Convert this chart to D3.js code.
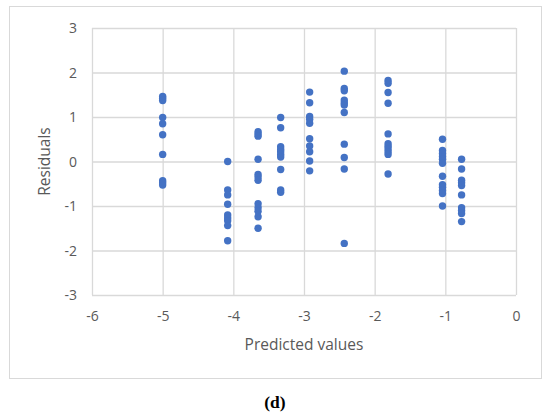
<!DOCTYPE html>
<html>
<head>
<meta charset="utf-8">
<script src="https://cdn.jsdelivr.net/npm/d3@7"></script>
<style>
  html, body { margin: 0; padding: 0; background: #fff; }
  svg { display: block; }
</style>
</head>
<body>
<div id="chart"></div>
<script>
// Predicted value of each vertical group of points
const predicted = [-5.0, -4.08, -3.65, -3.33, -2.92, -2.43, -1.81, -1.04, -0.77];
// Residuals for each group (same order as predicted)
const residuals = [
  [1.46, 1.42, 1.37, 0.99, 0.85, 0.60, 0.16, -0.43, -0.48, -0.53],
  [0.0, -0.64, -0.75, -0.96, -1.20, -1.27, -1.33, -1.44, -1.78],
  [0.67, 0.62, 0.57, 0.05, -0.29, -0.35, -0.42, -0.95, -1.04, -1.12, -1.24, -1.50],
  [0.99, 0.76, 0.33, 0.27, 0.22, 0.16, 0.10, -0.18, -0.64, -0.69],
  [1.56, 1.32, 1.01, 0.95, 0.86, 0.51, 0.35, 0.22, 0.01, -0.21],
  [2.03, 1.64, 1.59, 1.38, 1.32, 1.27, 1.10, 0.39, 0.09, -0.17, -1.84],
  [1.82, 1.76, 1.55, 1.31, 0.62, 0.40, 0.34, 0.28, 0.22, 0.16, -0.28],
  [0.50, 0.25, 0.18, 0.11, 0.05, -0.04, -0.33, -0.52, -0.58, -0.65, -0.72, -1.00],
  [0.05, -0.17, -0.42, -0.48, -0.54, -0.75, -1.04, -1.10, -1.17, -1.35]
];
const xTicks = [-6, -5, -4, -3, -2, -1, 0];
const yTicks = [-3, -2, -1, 0, 1, 2, 3];
const xTitle = "Predicted values";
const yTitle = "Residuals";
const caption = "(d)";

const points = [];
predicted.forEach((p, i) => residuals[i].forEach(r => points.push({x: p, y: r})));

const W = 550, H = 416;
const plot = {left: 92, right: 516, top: 28, bottom: 295};

const svg = d3.select("#chart").append("svg")
  .attr("width", W).attr("height", H);

// outer chart border
svg.append("rect")
  .attr("x", 9.5).attr("y", 6.5)
  .attr("width", 532).attr("height", 372)
  .attr("fill", "#fff")
  .attr("stroke", "#d9d9d9").attr("stroke-width", 1);

const x = d3.scaleLinear().domain([-6, 0]).range([plot.left, plot.right]);
const y = d3.scaleLinear().domain([-3, 3]).range([plot.bottom, plot.top]);
const fmt = d => String(d);

// gridlines
const gx = svg.append("g").attr("transform", `translate(0,${plot.bottom})`)
  .call(d3.axisBottom(x).tickValues(xTicks).tickSize(-(plot.bottom - plot.top)).tickFormat(""));
const gy = svg.append("g").attr("transform", `translate(${plot.left},0)`)
  .call(d3.axisLeft(y).tickValues(yTicks).tickSize(-(plot.right - plot.left)).tickFormat(""));
[gx, gy].forEach(g => {
  g.select(".domain").remove();
  g.selectAll(".tick line").attr("stroke", "#d9d9d9").attr("stroke-width", 1.3);
});

// tick labels via axes
const lx = svg.append("g").attr("transform", `translate(0,${plot.bottom})`)
  .call(d3.axisBottom(x).tickValues(xTicks).tickSize(0).tickPadding(14).tickFormat(fmt));
const ly = svg.append("g").attr("transform", `translate(${plot.left},0)`)
  .call(d3.axisLeft(y).tickValues(yTicks).tickSize(0).tickPadding(15).tickFormat(fmt));
[lx, ly].forEach(g => {
  g.select(".domain").remove();
  g.selectAll("text")
    .attr("fill", "#595959")
    .style("font-family", "'Open Sans', sans-serif")
    .style("font-size", "14px");
});
lx.selectAll("text").attr("dy", "0.85em");
ly.selectAll("text").attr("dy", "0.35em");

// points
svg.append("g").selectAll("circle").data(points).join("circle")
  .attr("cx", d => x(d.x))
  .attr("cy", d => y(d.y))
  .attr("r", 3.7)
  .attr("fill", "#4472c4");

// axis titles
svg.append("text")
  .attr("x", (plot.left + plot.right) / 2).attr("y", 350)
  .attr("text-anchor", "middle")
  .attr("fill", "#595959")
  .style("font-family", "'Open Sans', sans-serif")
  .style("font-size", "15.5px")
  .text(xTitle);

svg.append("text")
  .attr("transform", `translate(50,${(plot.top + plot.bottom) / 2}) rotate(-90)`)
  .attr("text-anchor", "middle")
  .attr("fill", "#595959")
  .style("font-family", "'Open Sans', sans-serif")
  .style("font-size", "15.5px")
  .text(yTitle);

// caption
svg.append("text")
  .attr("x", 275).attr("y", 408)
  .attr("text-anchor", "middle")
  .attr("fill", "#000")
  .style("font-family", "'Liberation Serif', 'Times New Roman', serif")
  .style("font-weight", "bold")
  .style("font-size", "17.5px")
  .text(caption);
</script>
</body>
</html>
